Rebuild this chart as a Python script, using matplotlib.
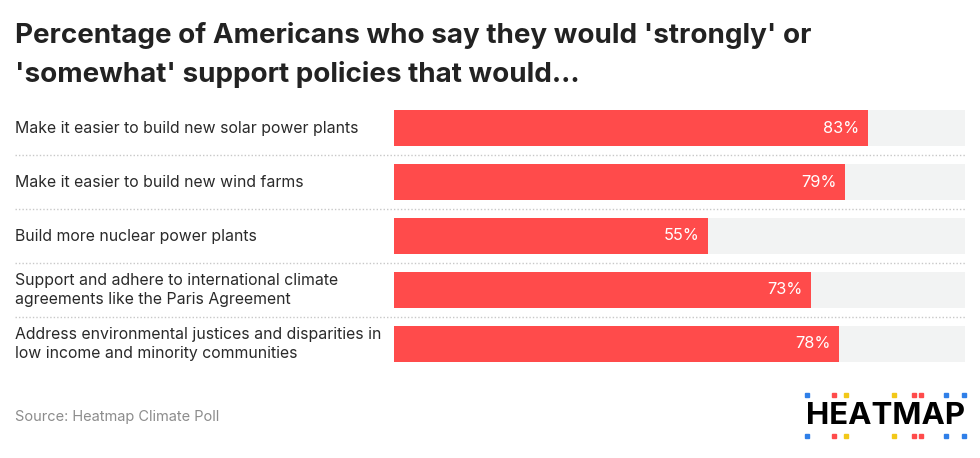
import matplotlib
matplotlib.use('Agg')
import matplotlib.pyplot as plt
import matplotlib.transforms as mtrans
from matplotlib.patches import Rectangle

plt.rcParams['font.family'] = ['Inter', 'DejaVu Sans']

title_lines = ["Percentage of Americans who say they would 'strongly' or",
               "'somewhat' support policies that would..."]
policies = [
    'Make it easier to build new solar power plants',
    'Make it easier to build new wind farms',
    'Build more nuclear power plants',
    'Support and adhere to international climate\nagreements like the Paris Agreement',
    'Address environmental justices and disparities in\nlow income and minority communities',
]
support = [83, 79, 55, 73, 78]
source = 'Source: Heatmap Climate Poll'

W, H = 980, 458
red = '#ff4b4b'
track = '#f2f3f3'
dark = '#2a2a2a'

fig = plt.figure(figsize=(W / 100, H / 100), dpi=100)
fig.patch.set_facecolor('white')

# bar area in pixels
x0, x1 = 394, 965
y_top, y_bot = 110, 362
bh = 0.67
ax = fig.add_axes([x0 / W, 1 - y_bot / H, (x1 - x0) / W, (y_bot - y_top) / H])
n = len(policies)
ypos = list(range(n))
ax.barh(ypos, [100] * n, height=bh, color=track, zorder=1)
ax.barh(ypos, support, height=bh, color=red, zorder=2)
ax.set_xlim(0, 100)
ax.set_ylim(n - 1 + bh / 2, -bh / 2)
ax.axis('off')

for y, v in zip(ypos, support):
    ax.annotate(f'{v}%', (v, y), xytext=(-6, 0), textcoords='offset points',
                ha='right', va='center', color='white', fontsize=11.8, zorder=3)

trans = mtrans.blended_transform_factory(fig.transFigure, ax.transData)
for y, lab in zip(ypos, policies):
    ax.text(15 / W, y, lab, transform=trans, ha='left', va='center',
            fontsize=11.4, color=dark, linespacing=1.35, clip_on=False)

for y in ypos[:-1]:
    ax.plot([15 / W, x1 / W], [y + 0.5, y + 0.5], transform=trans,
            color='#c8c8c8', lw=1, ls=(0, (1, 1.5)), clip_on=False)

for i, line in enumerate(title_lines):
    fig.text(15 / W, 1 - (43 + 39.5 * i) / H, line, ha='left', va='baseline',
             fontsize=20, fontweight='bold', color='#222222')
fig.text(15 / W, 1 - 417 / H, source, ha='left', va='center', fontsize=10.5,
         color='#8c8c8c')

# logo
fig.text(886 / W, 1 - 416 / H, 'HEATMAP', ha='center', va='center',
         fontsize=22.5, fontweight='bold', color='black')
dots = [(807, '#2f7fe8'), (834, red), (846, '#f2c818'), (894, '#f2c818'),
        (914, red), (921, red), (946, '#2f7fe8'), (964, '#2f7fe8')]
for xd, c in dots:
    for yd in (395, 436):
        fig.patches.append(Rectangle(((xd - 2) / W, 1 - (yd + 2) / H), 4 / W, 4 / H,
                                     transform=fig.transFigure, color=c))

fig.savefig('out.png', dpi=100, facecolor='white')
